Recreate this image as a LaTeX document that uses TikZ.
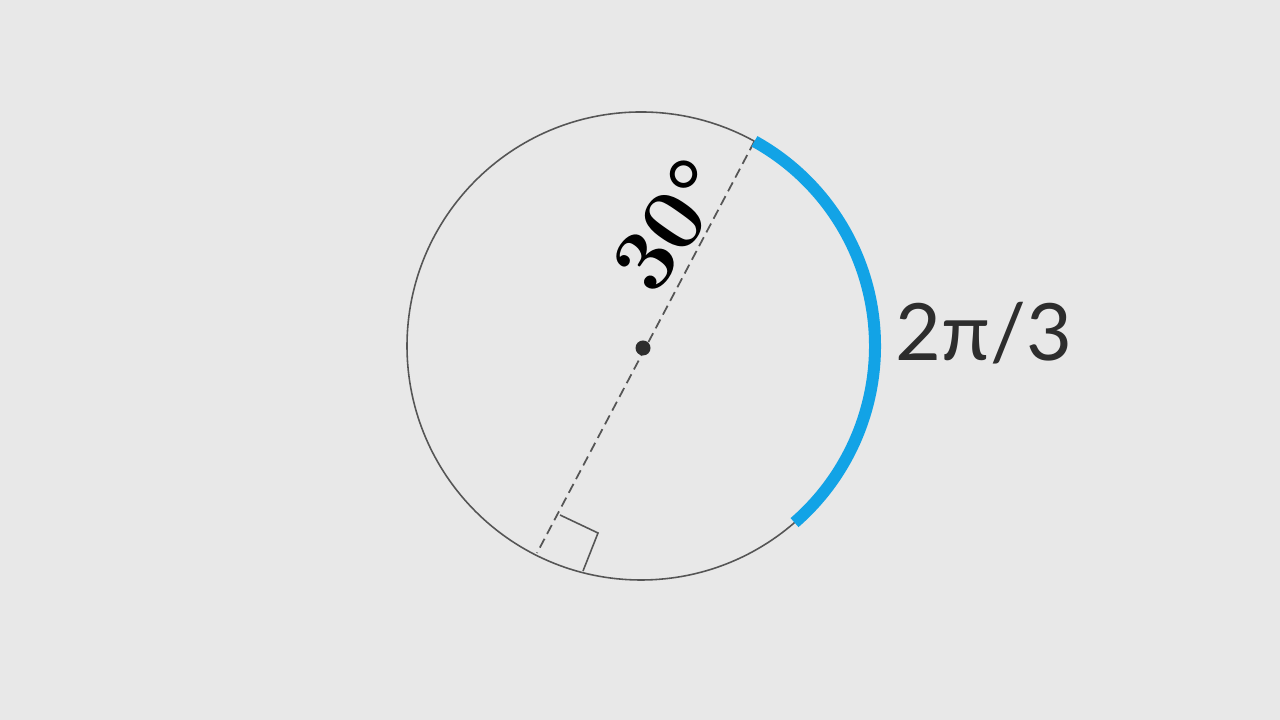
\documentclass[tikz,border=0pt]{standalone}
\usepackage{fontspec}
\newfontfamily\labelfont{Lato}
\usetikzlibrary{calc}
\definecolor{bg}{RGB}{232,232,232}
\definecolor{ink}{RGB}{85,85,85}
\definecolor{arcblue}{RGB}{18,163,230}
\definecolor{txt}{RGB}{45,45,45}
\tikzset{
  thinline/.style={draw=ink, line width=0.45pt},
  dashline/.style={draw=ink, line width=0.5pt, dash pattern=on 0.1cm off 0.055cm},
  bluearc/.style={draw=arcblue, line width=0.12cm, line cap=butt},
}
\begin{document}
\begin{tikzpicture}
\fill[bg] (0,0) rectangle (12.8,7.2);
\useasboundingbox (0,0) rectangle (12.8,7.2);
\coordinate (C) at (6.41,3.74);
\coordinate (T) at ($(C)+(61:2.34)$);
\coordinate (B) at (5.37,1.67);
\coordinate (Q1) at (5.60,2.05);
\coordinate (Q2) at (5.98,1.87);
\coordinate (Q3) at (5.83,1.49);
% circle
\draw[thinline] (C) circle[radius=2.34cm];
% dashed diameter
\draw[dashline] (T) -- (B);
% right angle mark
\draw[thinline] (Q1) -- (Q2) -- (Q3);
% blue arc
\draw[bluearc] (T) arc[start angle=61, end angle=-49, radius=2.34cm];
% centre dot
\fill[txt] (6.43,3.72) circle[radius=0.075cm];
% labels
\node[rotate=55, text=black, font=\fontsize{25}{30}\selectfont\bfseries, inner sep=0pt] (ang) at (6.69,4.95) {30°};
\node[anchor=west, text=txt, font=\labelfont\fontsize{22.5}{27}\selectfont, inner sep=0pt] (len) at (8.95,3.87) {2π/3};
\end{tikzpicture}
\end{document}
